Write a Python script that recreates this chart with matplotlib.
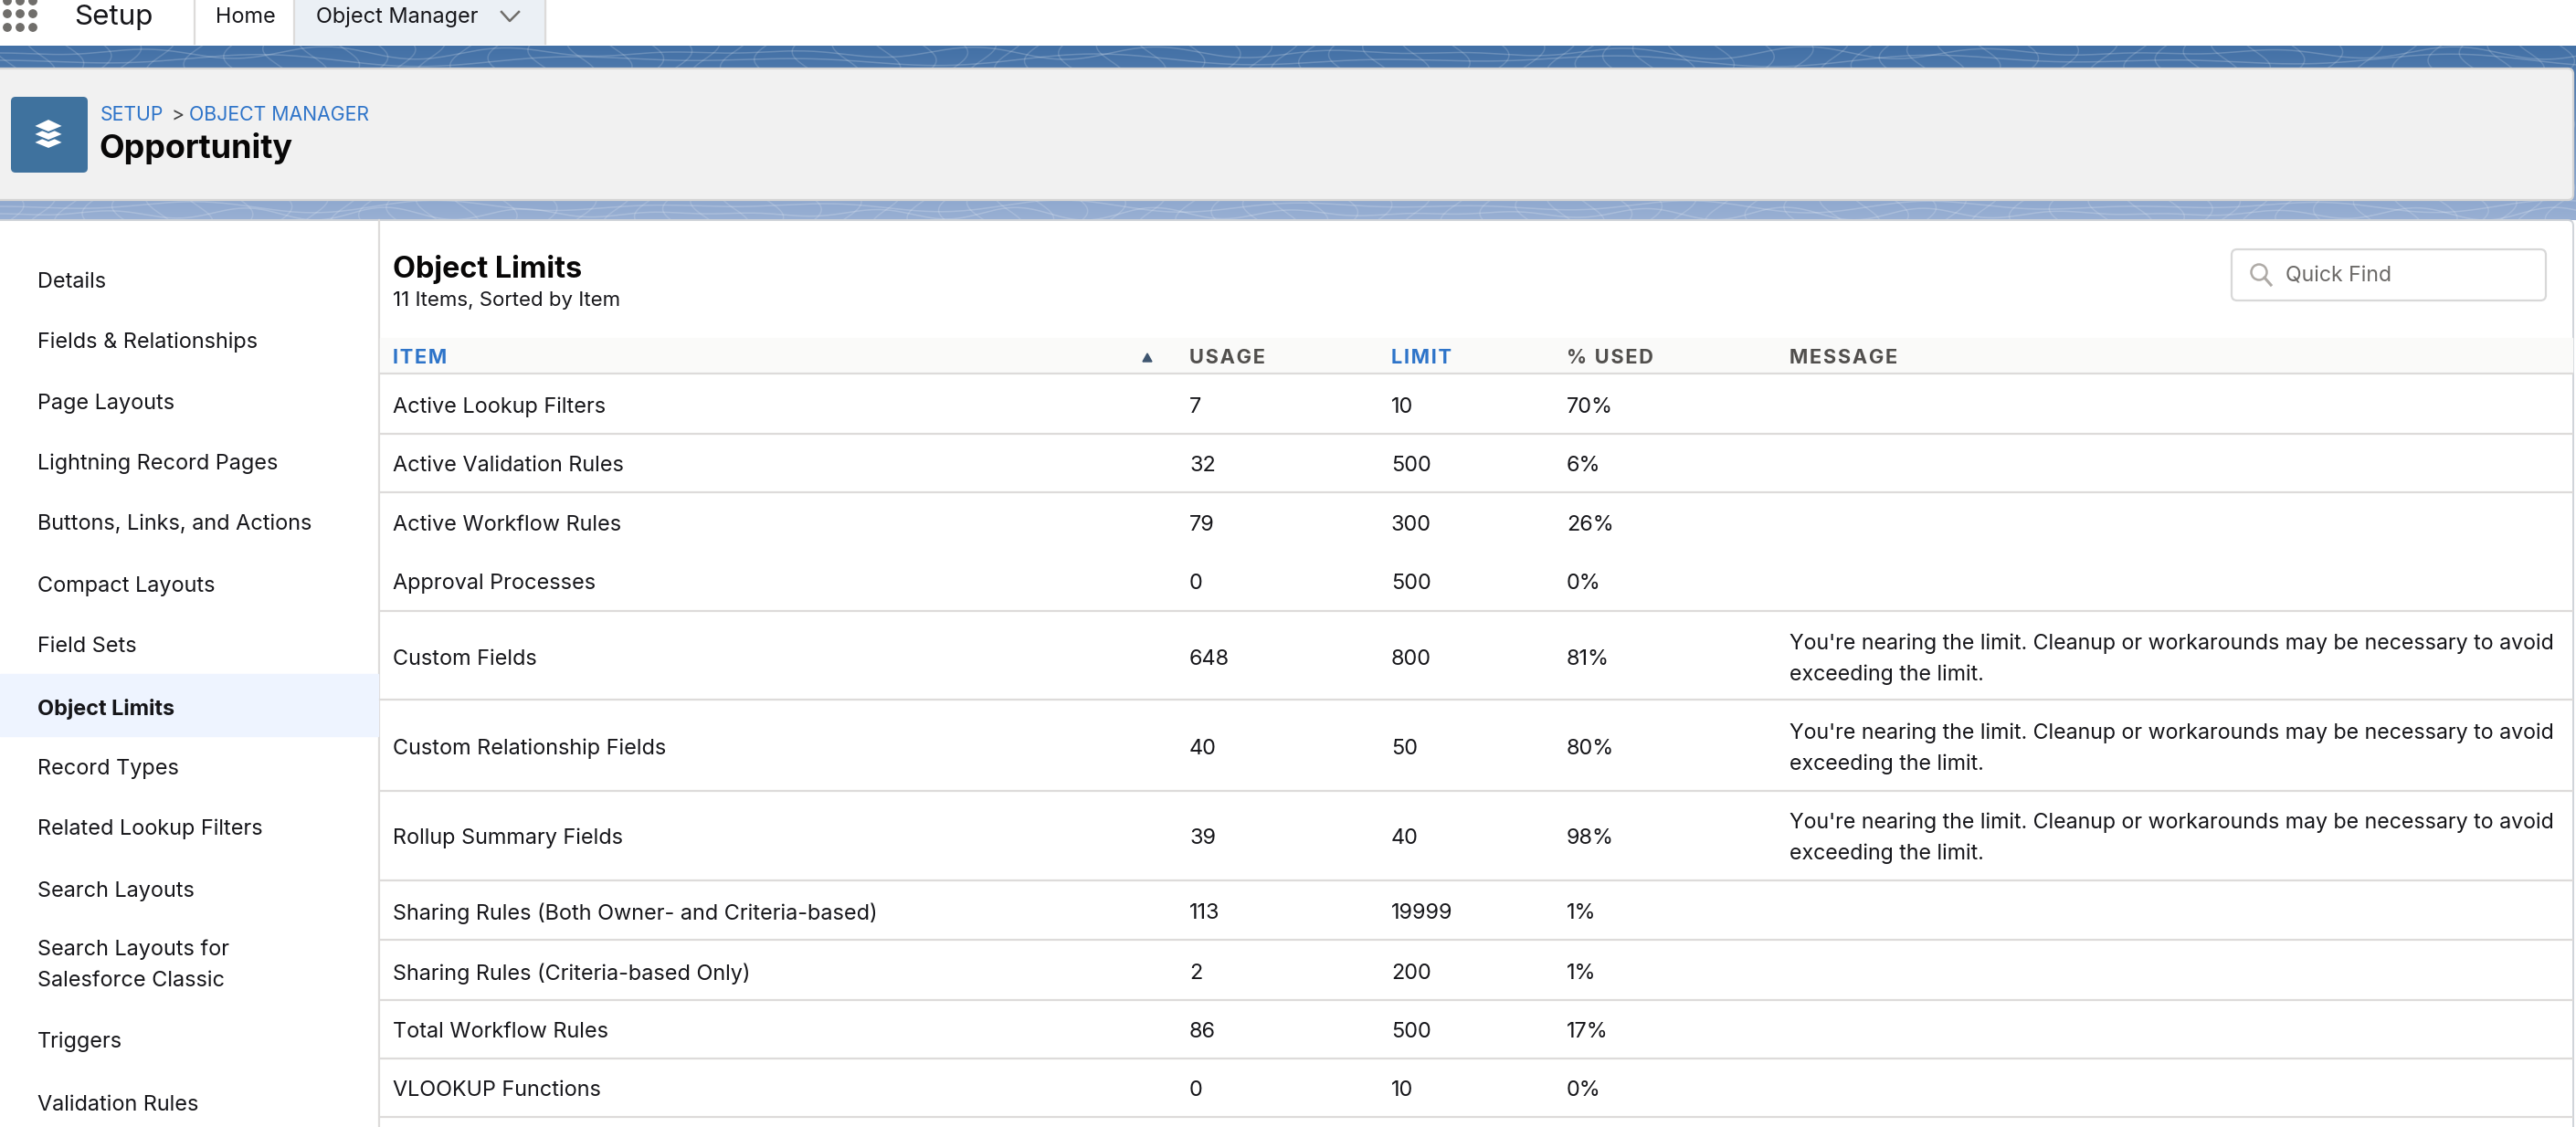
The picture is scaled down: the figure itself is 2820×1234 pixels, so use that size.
import numpy as np
import matplotlib
matplotlib.use("Agg")
import matplotlib.pyplot as plt
from matplotlib.patches import Rectangle, FancyBboxPatch, Polygon, Circle

plt.rcParams['font.family'] = ['Inter', 'DejaVu Sans']

# table contents
items = ["Active Lookup Filters", "Active Validation Rules", "Active Workflow Rules",
         "Approval Processes", "Custom Fields", "Custom Relationship Fields",
         "Rollup Summary Fields", "Sharing Rules (Both Owner- and Criteria-based)",
         "Sharing Rules (Criteria-based Only)", "Total Workflow Rules", "VLOOKUP Functions"]
usage = [7, 32, 79, 0, 648, 40, 39, 113, 2, 86, 0]
limits = [10, 500, 300, 500, 800, 50, 40, 19999, 200, 500, 10]
pct_used = [70, 6, 26, 0, 81, 80, 98, 1, 1, 17, 0]
near_limit = ["Custom Fields", "Custom Relationship Fields", "Rollup Summary Fields"]
message = ["You're nearing the limit. Cleanup or workarounds may be necessary to avoid",
           "exceeding the limit."]
headers = ["ITEM", "USAGE", "LIMIT", "% USED", "MESSAGE"]
header_colors = ["#2e74c9", "#514f4d", "#2e74c9", "#514f4d", "#514f4d"]

sidebar = ["Details", "Fields & Relationships", "Page Layouts", "Lightning Record Pages",
           "Buttons, Links, and Actions", "Compact Layouts", "Field Sets", "Object Limits",
           "Record Types", "Related Lookup Filters", "Search Layouts",
           "Search Layouts for\nSalesforce Classic", "Triggers", "Validation Rules"]

# layout, in pixels of the screenshot
W, H = 2820, 1234
col_x = [430, 1302, 1523, 1715, 1959]
row_y = [446, 510, 575, 639, 722, 820, 918, 1000, 1066, 1130, 1194]
row_lines = [409, 475, 539, 669, 766, 866, 964, 1029, 1095, 1159, 1223]
side_y = [309, 375, 442, 508, 574, 642, 708, 776, 842, 908, 976, 1057, 1141, 1210]

TEXT = "#16161a"
LINE = "#dddbda"
BODY = 16.9
MSG = 16.7

fig = plt.figure(figsize=(W / 100, H / 100), dpi=100)
ax = fig.add_axes([0, 0, 1, 1])
ax.set_xlim(0, W)
ax.set_ylim(H, 0)
ax.axis('off')


def spaced(s):
    return "\u200a".join(s)


# blue background with its gradient
grad = np.linspace(0, 1, 200)[:, None, None]
top_col = np.array([[[0.26, 0.44, 0.65]]])
bot_col = np.array([[[0.60, 0.69, 0.83]]])
ax.imshow(top_col + (bot_col - top_col) * grad, extent=(0, W, 241, 50), aspect='auto', zorder=0)
ax.set_xlim(0, W)
ax.set_ylim(H, 0)

# contour pattern in the bands
t = np.linspace(50, 241, 120)
for x0 in np.arange(0, W, 37):
    ax.plot(x0 + 16 * np.sin(t / 11 + x0 * 0.7) + 10 * np.cos(x0), t, color='white', alpha=0.16, lw=1.1, zorder=1)
s = np.linspace(0, W, 1500)
for y0, k in [(58, 0.031), (66, 0.017), (226, 0.023), (234, 0.041)]:
    ax.plot(s, y0 + 7 * np.sin(s * k) * np.sin(s * 0.004), color='white', alpha=0.2, lw=1.1, zorder=1)

# top navigation
ax.add_patch(Rectangle((323, 0), 274, 48, color="#ebf0f5", zorder=2))
for x in [213, 322, 597]:
    ax.plot([x, x], [0, 48], color=LINE, lw=1.6, zorder=3)
for dx in [8, 22, 36]:
    for dy in [1, 15, 30]:
        ax.add_patch(Circle((dx, dy), 4.2, color="#706e6b", zorder=3))
ax.text(81, 19, "Setup", fontsize=22.6, color=TEXT, va='center', zorder=4)
ax.text(236, 19, "Home", fontsize=BODY, color=TEXT, va='center', zorder=4)
ax.text(346, 19, "Object Manager", fontsize=BODY, color=TEXT, va='center', zorder=4)
ax.plot([549, 558, 568], [13, 23, 13], color="#706e6b", lw=1.8, zorder=4)

# page header panel
ax.add_patch(FancyBboxPatch((-10, 75), W - 3 + 10, 144, boxstyle="round,pad=0,rounding_size=6",
                            fc="#f1f1f1", ec="#d4d4d4", lw=1.6, zorder=2))
ax.add_patch(FancyBboxPatch((12, 106), 84, 83, boxstyle="round,pad=0,rounding_size=5",
                            fc="#3f729e", ec="none", zorder=3))
for n, top in enumerate([130, 139, 148]):
    ax.add_patch(Polygon([[36, top + 8], [53, top], [70, top + 8], [53, top + 15]], fc="white",
                         ec="#3f729e", lw=1.4, zorder=3.5 - n * 0.1))
ax.text(110, 126, "SETUP", fontsize=15.3, color="#2e74c9", va='center', zorder=4)
ax.text(187, 126, ">", fontsize=15.3, color="#444444", va='center', zorder=4)
ax.text(207, 126, "OBJECT MANAGER", fontsize=15.3, color="#2e74c9", va='center', zorder=4)
ax.text(108, 163, "Opportunity", fontsize=25.9, fontweight='bold', color="#080707", va='center', zorder=4)

# main white panel
ax.add_patch(FancyBboxPatch((-10, 241), W - 3 + 10, H, boxstyle="round,pad=0,rounding_size=6",
                            fc="white", ec="#cfd3d8", lw=1.4, zorder=2))
ax.plot([415, 415], [241, H], color=LINE, lw=1.6, zorder=3)

# sidebar
ax.add_patch(Rectangle((0, 738), 414, 68, color="#eef4ff", zorder=3))
for name, y in zip(sidebar, side_y):
    ax.text(41, y, name, fontsize=BODY, color=TEXT, va='center', linespacing=1.7, zorder=4,
            fontweight='bold' if name == "Object Limits" else 'normal')

# title and search box
ax.text(430, 295, "Object Limits", fontsize=23.3, fontweight='bold', color="#080707", va='center', zorder=4)
ax.text(430, 329, "11 Items, Sorted by Item", fontsize=16, color=TEXT, va='center', zorder=4)
ax.add_patch(FancyBboxPatch((2443, 273), 344, 56, boxstyle="round,pad=0,rounding_size=6",
                            fc="white", ec="#d8d8d8", lw=1.6, zorder=3))
ax.add_patch(Circle((2473, 298), 8.5, fc="none", ec="#aeaaa6", lw=1.8, zorder=4))
ax.plot([2479, 2486], [304, 312], color="#aeaaa6", lw=2.2, zorder=4)
ax.text(2502, 303, "Quick Find", fontsize=16.6, color="#6b6967", va='center', zorder=4)

# table head
ax.add_patch(Rectangle((416, 370), W - 420, 38, color="#fafaf9", zorder=3))
for label, x, col in zip(headers, col_x, header_colors):
    ax.text(x, 392, spaced(label), fontsize=15.7, fontweight='bold', color=col, va='center', zorder=4)
ax.add_patch(Polygon([[1251, 396], [1256, 387], [1261, 396]], color="#3e5570", zorder=4))

# rows
for y in row_lines:
    ax.plot([416, W - 4], [y, y], color=LINE, lw=1.6, zorder=3)
for i, y in enumerate(row_y):
    ax.text(col_x[0], y, items[i], fontsize=BODY, color=TEXT, va='center', zorder=4)
    ax.text(col_x[1], y, str(usage[i]), fontsize=BODY, color=TEXT, va='center', zorder=4)
    ax.text(col_x[2], y, str(limits[i]), fontsize=BODY, color=TEXT, va='center', zorder=4)
    ax.text(col_x[3], y, str(pct_used[i]) + "%", fontsize=BODY, color=TEXT, va='center', zorder=4)
    if items[i] in near_limit:
        ax.text(col_x[4], y - 17, message[0], fontsize=MSG, color=TEXT, va='center', zorder=4)
        ax.text(col_x[4], y + 17, message[1], fontsize=MSG, color=TEXT, va='center', zorder=4)

plt.savefig("out.png", dpi=100)
plt.close()
